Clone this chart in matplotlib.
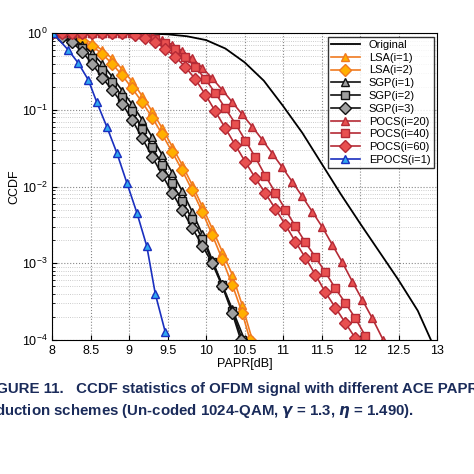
import matplotlib
matplotlib.use("Agg")
import matplotlib.pyplot as plt
import numpy as np

plt.rcParams['font.family'] = ['Liberation Sans', 'DejaVu Sans']

G = [8.0,8.13,8.26,8.39,8.52,8.65,8.78,8.91,9.04,9.17,9.30,9.43,9.56,9.69,9.82,9.95,10.08,10.21,10.34,10.47,10.60]

orig_x = [8.0,8.5,9.0,9.25,9.5,9.75,10.0,10.25,10.5,10.75,11.0,11.25,11.5,11.75,12.0,12.25,12.5,12.75,12.92,13.0]
orig_y = [0,0,0,-0.005,-0.015,-0.04,-0.09,-0.20,-0.38,-0.62,-0.95,-1.30,-1.70,-2.10,-2.48,-2.85,-3.22,-3.62,-4.0,-4.2]

lsa1_x = G
lsa1_y = [0,-0.01,-0.03,-0.07,-0.13,-0.22,-0.33,-0.47,-0.63,-0.82,-1.02,-1.24,-1.48,-1.72,-1.98,-2.26,-2.55,-2.85,-3.15,-3.55,-4.0]
lsa2_x = G[:20] + [10.57]
lsa2_y = [0,-0.02,-0.05,-0.10,-0.17,-0.27,-0.40,-0.55,-0.72,-0.90,-1.10,-1.32,-1.55,-1.79,-2.05,-2.33,-2.63,-2.95,-3.28,-3.65,-4.0]
sgp1_x = G[:19] + [10.5]
sgp1_y = [0,-0.03,-0.08,-0.15,-0.26,-0.40,-0.57,-0.75,-0.93,-1.13,-1.36,-1.59,-1.82,-2.06,-2.33,-2.62,-2.96,-3.28,-3.60,-4.0]
sgp2_x = G[:19] + [10.47]
sgp2_y = [0,-0.04,-0.10,-0.19,-0.32,-0.48,-0.64,-0.83,-1.02,-1.25,-1.49,-1.72,-1.96,-2.19,-2.43,-2.68,-2.98,-3.29,-3.62,-4.0]
sgp3_x = G[:19] + [10.45]
sgp3_y = [0,-0.05,-0.12,-0.24,-0.40,-0.58,-0.74,-0.92,-1.13,-1.37,-1.61,-1.85,-2.08,-2.31,-2.54,-2.77,-3.0,-3.30,-3.65,-4.0]

P = [8.0,8.13,8.26,8.39,8.52,8.65,8.78,8.91,9.04]
pocs20_x = P + [9.17,9.30,9.43,9.56,9.69,9.82,9.95,10.08,10.21,10.34,10.47,10.60,10.73,10.86,10.99,11.12,11.25,11.38,11.51,11.64,11.77,11.90,12.03,12.16,12.30]
pocs20_y = [0]*9 + [-0.01,-0.04,-0.09,-0.15,-0.23,-0.33,-0.45,-0.59,-0.74,-0.90,-1.06,-1.22,-1.39,-1.57,-1.75,-1.94,-2.13,-2.33,-2.53,-2.76,-2.99,-3.24,-3.48,-3.72,-4.0]
pocs40_x = P + [9.21,9.34,9.47,9.60,9.73,9.86,9.99,10.12,10.25,10.38,10.51,10.64,10.77,10.90,11.03,11.16,11.29,11.42,11.55,11.68,11.81,11.94,12.07]
pocs40_y = [0]*9 + [-0.03,-0.07,-0.13,-0.21,-0.31,-0.44,-0.60,-0.78,-0.98,-1.18,-1.40,-1.62,-1.86,-2.08,-2.30,-2.52,-2.73,-2.92,-3.12,-3.33,-3.52,-3.72,-3.95]
pocs60_x = P[:8] + [9.08,9.21,9.34,9.47,9.60,9.73,9.86,9.99,10.12,10.25,10.38,10.51,10.64,10.77,10.90,11.03,11.16,11.29,11.42,11.55,11.68,11.81,11.94]
pocs60_y = [0]*8 + [-0.03,-0.06,-0.12,-0.20,-0.31,-0.44,-0.60,-0.80,-1.02,-1.24,-1.46,-1.68,-1.89,-2.09,-2.29,-2.50,-2.72,-2.93,-3.15,-3.38,-3.58,-3.78,-3.98]

epocs_x = [8.01,8.21,8.34,8.47,8.58,8.71,8.84,8.97,9.10,9.23,9.34,9.47]
epocs_y = [0,-0.22,-0.39,-0.61,-0.90,-1.22,-1.56,-1.95,-2.34,-2.78,-3.40,-3.90]

fig = plt.figure(figsize=(4.74, 4.74), dpi=100)
ax = fig.add_axes([0.11, 0.283, 0.812, 0.647])

ax.plot(orig_x, 10**np.array(orig_y), color='black', lw=1.3, label='Original')
ms = 6
def s(x, y, mk, lc, fc, lab):
    ax.plot(x, 10**np.array(y), color=lc, marker=mk, mfc=fc, mec=lc, ms=ms, lw=1.2, label=lab)

s(lsa1_x, lsa1_y, '^', '#f07a20', '#ffb000', 'LSA(i=1)')
s(lsa2_x, lsa2_y, 'D', '#f07a20', '#ffb000', 'LSA(i=2)')
s(sgp1_x, sgp1_y, '^', '#111111', '#a0a0a0', 'SGP(i=1)')
s(sgp2_x, sgp2_y, 's', '#111111', '#a0a0a0', 'SGP(i=2)')
s(sgp3_x, sgp3_y, 'D', '#111111', '#a0a0a0', 'SGP(i=3)')
s(pocs20_x, pocs20_y, '^', '#b52a35', '#e85050', 'POCS(i=20)')
s(pocs40_x, pocs40_y, 's', '#b52a35', '#e85050', 'POCS(i=40)')
s(pocs60_x, pocs60_y, 'D', '#b52a35', '#e85050', 'POCS(i=60)')
s(epocs_x, epocs_y, '^', '#1a2fbf', '#30a8f0', 'EPOCS(i=1)')

ax.set_yscale('log')
ax.set_xlim(8, 13)
ax.set_ylim(1e-4, 1)
ax.set_xticks([8,8.5,9,9.5,10,10.5,11,11.5,12,12.5,13])
ax.set_xticklabels(['8','8.5','9','9.5','10','10.5','11','11.5','12','12.5','13'])
ax.grid(True, which='major', ls=':', color='#888888', lw=0.8)
ax.grid(True, which='minor', axis='y', ls=':', color='#bbbbbb', lw=0.6)
ax.tick_params(labelsize=9, direction='in', which='both')
ax.set_xlabel('PAPR[dB]', fontsize=9, labelpad=1)
ax.set_ylabel('CCDF', fontsize=9, labelpad=1)
ax.legend(loc='upper right', fontsize=8, fancybox=False, edgecolor='black',
          borderaxespad=0.3, handlelength=2.6, labelspacing=0.25, borderpad=0.3)

fig.text(-0.035, 0.17, 'FIGURE 11.   CCDF statistics of OFDM signal with different ACE PAPR',
         fontsize=10.8, fontweight='bold', color='#1a2b5a')
fig.text(-0.04, 0.125, 'reduction schemes (Un-coded 1024-QAM, $\\boldsymbol{\\gamma}$ = 1.3, $\\boldsymbol{\\eta}$ = 1.490).',
         fontsize=10.8, fontweight='bold', color='#1a2b5a')
fig.savefig('out.png', dpi=100)
